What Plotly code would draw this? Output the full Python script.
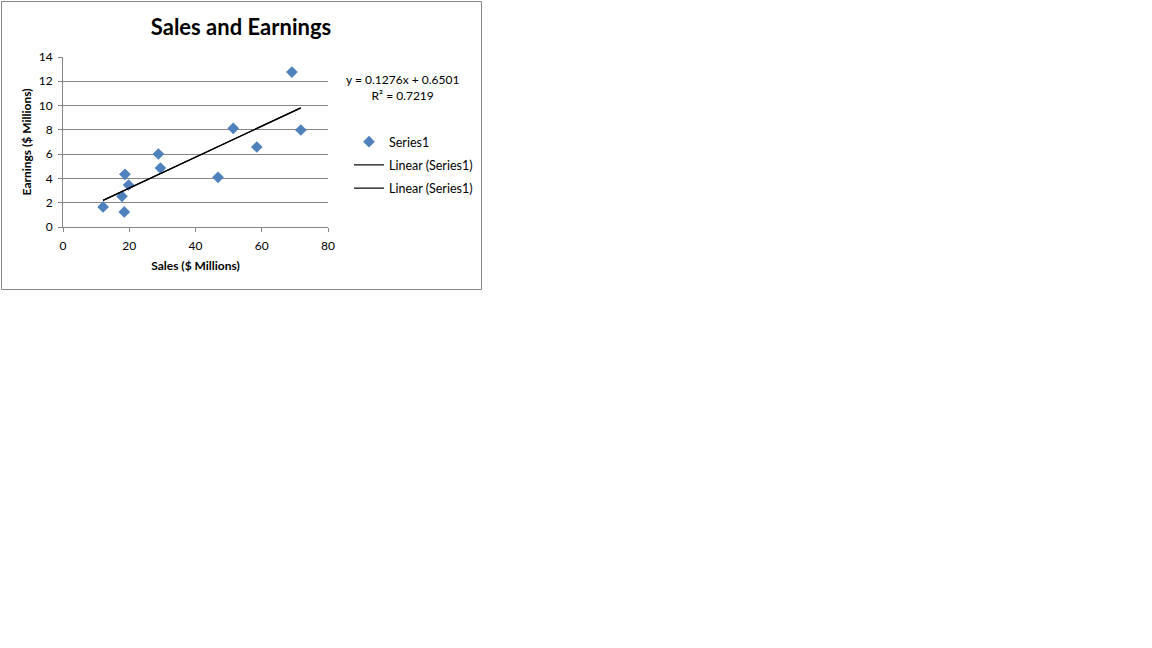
from plotly import graph_objects as go
import numpy as np

# Data
sales = [12.1, 17.8, 18.5, 18.7, 19.8, 28.8, 29.4, 46.8, 51.4, 58.5, 69.1, 71.8]
earnings = [1.65, 2.53, 1.24, 4.34, 3.46, 6.01, 4.86, 4.09, 8.13, 6.59, 12.76, 7.99]
slope = 0.1276
intercept = 0.6501
r_squared = 0.7219

trend_x = np.array([min(sales), max(sales)])
trend_y = slope * trend_x + intercept

FONT = "Lato, Calibri, sans-serif"

fig = go.Figure()

fig.add_trace(go.Scatter(
    x=sales, y=earnings,
    mode='markers',
    marker=dict(symbol='diamond', size=9, color='#4F81BD'),
    name='Series1',
    legendgroup='a'))

fig.add_trace(go.Scatter(
    x=trend_x, y=trend_y,
    mode='lines',
    line=dict(color='black', width=1.2),
    name='Linear (Series1)',
    legendgroup='b'))

fig.add_trace(go.Scatter(
    x=trend_x, y=trend_y,
    mode='lines',
    line=dict(color='black', width=1.2),
    name='Linear (Series1)',
    legendgroup='c'))

# plot area in page pixels: x 63..328, y 57..227 (body margin removed below)
W, H = 1152, 648
L, R, T, B = 63, 328, 57, 227
pw, ph = R - L, B - T

def px_x(p):
    return (p - L) / pw

def px_y(p):
    return (B - p) / ph

fig.update_layout(
    width=W, height=H,
    margin={'l': L, 'r': W - R, 't': T, 'b': H - B, 'pad': 0},
    paper_bgcolor='white',
    plot_bgcolor='white',
    font=dict(family=FONT, size=12, color='black'),
    title=dict(text='<b>Sales and Earnings</b>', x=px_x(241), xref='paper',
               xanchor='center', y=1 - 27 / H, yanchor='middle',
               font=dict(family=FONT, size=22, color='black')),
    showlegend=True,
    legend=dict(x=px_x(349), y=px_y(127), xanchor='left', yanchor='top',
                font=dict(family=FONT, size=12.5, color='black'),
                traceorder='grouped', tracegroupgap=4,
                itemwidth=30, bgcolor='rgba(0,0,0,0)'),
    xaxis=dict(range=[0, 80], dtick=20, showgrid=False, zeroline=False,
               showline=True, linecolor='#868686', linewidth=1,
               ticks='outside', ticklen=4, tickcolor='#868686',
               ticklabelstandoff=4,
               tickfont=dict(family=FONT, size=12),
               title=dict(text='<b>Sales ($ Millions)</b>', standoff=9,
                          font=dict(family=FONT, size=12))),
    yaxis=dict(range=[0, 14], dtick=2, showgrid=True, gridcolor='#868686',
               gridwidth=1, zeroline=False,
               showline=True, linecolor='#868686', linewidth=1,
               ticks='outside', ticklen=4, tickcolor='#868686',
               ticklabelstandoff=3,
               tickfont=dict(family=FONT, size=12),
               title=dict(text='<b>Earnings ($ Millions)</b>', standoff=4,
                          font=dict(family=FONT, size=12))),
)

fig.add_annotation(
    xref='paper', yref='paper',
    x=px_x(402), y=px_y(87),
    xanchor='center', yanchor='middle',
    text=f'y = {slope}x + {intercept}<br>R² = {r_squared}',
    showarrow=False, align='center',
    font=dict(family=FONT, size=12, color='black'))

# outer chart border
fig.add_shape(type='rect', xref='paper', yref='paper',
              x0=px_x(1.5), x1=px_x(481.5), y0=px_y(289.5), y1=px_y(1.5),
              line=dict(color='#868686', width=1), layer='below')

fig.write_html("out.html",
               config={'displayModeBar': False},
               post_script="document.body.style.margin='0';"
                           "document.body.style.overflow='hidden';")
